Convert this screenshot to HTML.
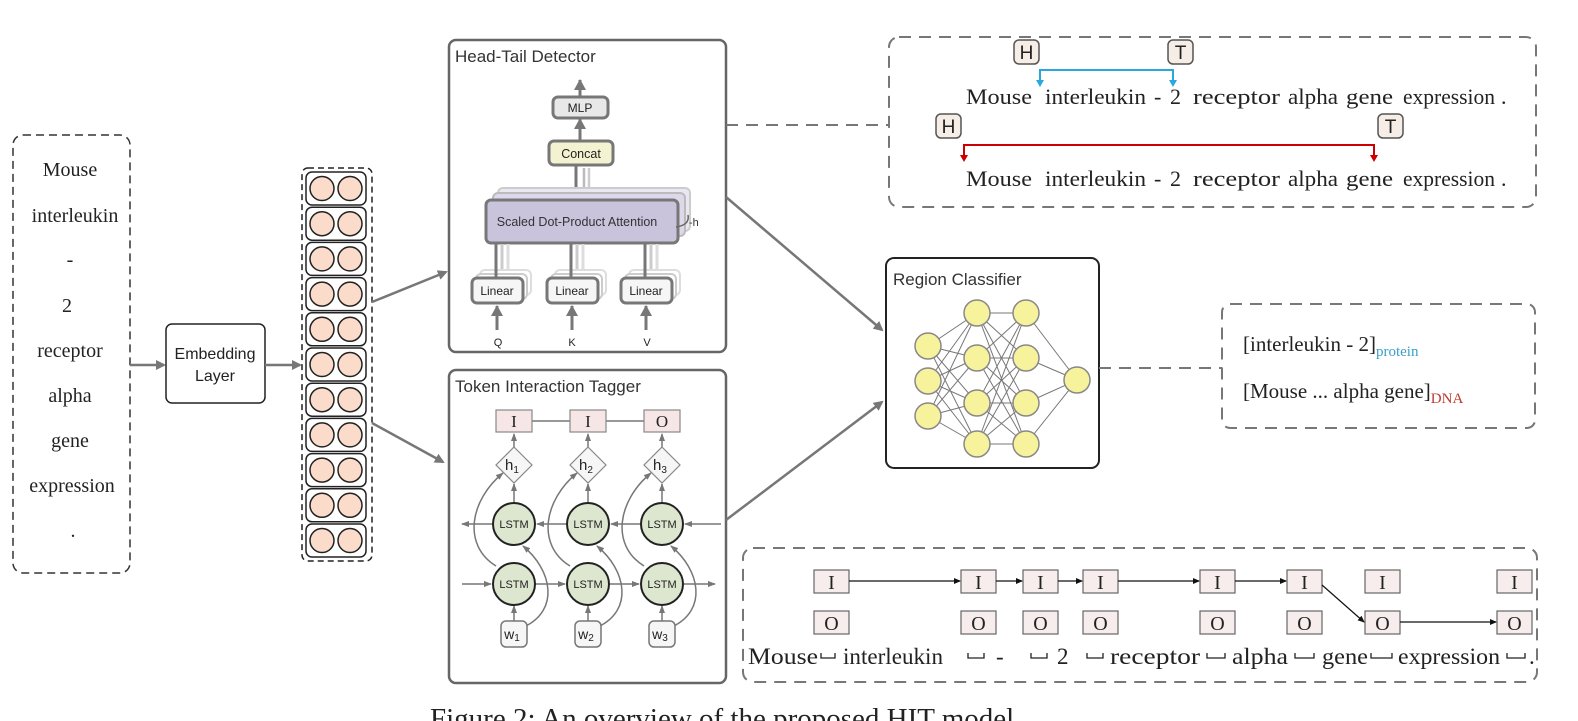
<!DOCTYPE html>
<html><head><meta charset="utf-8"><style>
body{margin:0;background:#fff}
svg{display:block}
.s{font-family:"Liberation Sans",sans-serif}
.r{font-family:"Liberation Serif",serif}
</style></head><body>
<svg width="1578" height="721" viewBox="0 0 1578 721" xmlns="http://www.w3.org/2000/svg">
<defs>
<marker id="ag" markerWidth="10" markerHeight="10" refX="8" refY="5" orient="auto" markerUnits="userSpaceOnUse"><path d="M0,0 L10,5 L0,10 z" fill="#777"/></marker>
<marker id="as" markerWidth="8" markerHeight="8" refX="7" refY="4" orient="auto" markerUnits="userSpaceOnUse"><path d="M0,1 L8,4 L0,7 z" fill="#777"/></marker>
<marker id="ak" markerWidth="7" markerHeight="7" refX="6" refY="3.5" orient="auto" markerUnits="userSpaceOnUse"><path d="M0,0.5 L7,3.5 L0,6.5 z" fill="#111"/></marker>
<marker id="at" markerWidth="12" markerHeight="12" refX="10" refY="6" orient="auto" markerUnits="userSpaceOnUse"><path d="M0,0 L11,6 L0,12 z" fill="#777"/></marker>
</defs>

<!-- Left word box -->
<rect x="13" y="135" width="117" height="438" rx="10" fill="none" stroke="#333" stroke-width="1.5" stroke-dasharray="8,5"/>
<g class="r" font-size="20" fill="#222" text-anchor="middle">
<text x="70" y="176">Mouse</text>
<text x="75" y="222">interleukin</text>
<text x="70" y="266">-</text>
<text x="67" y="312">2</text>
<text x="70" y="357">receptor</text>
<text x="70" y="402">alpha</text>
<text x="70" y="447">gene</text>
<text x="72" y="492">expression</text>
<text x="73" y="537">.</text>
</g>
<line x1="130" y1="365" x2="164" y2="365" stroke="#777" stroke-width="2.5" marker-end="url(#ag)"/>
<rect x="166" y="324" width="99" height="79" rx="6" fill="#fff" stroke="#222" stroke-width="1.5"/>
<text class="s" x="215" y="359" font-size="16" text-anchor="middle" fill="#222">Embedding</text>
<text class="s" x="215" y="381" font-size="16" text-anchor="middle" fill="#222">Layer</text>
<line x1="265" y1="365" x2="300" y2="365" stroke="#777" stroke-width="2.5" marker-end="url(#ag)"/>

<!-- embedding column -->
<rect x="302" y="168" width="70" height="393" rx="6" fill="none" stroke="#222" stroke-width="1.5" stroke-dasharray="6,4"/>
<g stroke="#222" stroke-width="1.5">
<rect x="306" y="172" width="60" height="33" rx="6" fill="#fff"/><circle cx="322" cy="188.5" r="12" fill="#fbdccb"/><circle cx="350" cy="188.5" r="12" fill="#fbdccb"/>
<rect x="306" y="207.2" width="60" height="33" rx="6" fill="#fff"/><circle cx="322" cy="223.7" r="12" fill="#fbdccb"/><circle cx="350" cy="223.7" r="12" fill="#fbdccb"/>
<rect x="306" y="242.4" width="60" height="33" rx="6" fill="#fff"/><circle cx="322" cy="258.9" r="12" fill="#fbdccb"/><circle cx="350" cy="258.9" r="12" fill="#fbdccb"/>
<rect x="306" y="277.6" width="60" height="33" rx="6" fill="#fff"/><circle cx="322" cy="294.1" r="12" fill="#fbdccb"/><circle cx="350" cy="294.1" r="12" fill="#fbdccb"/>
<rect x="306" y="312.8" width="60" height="33" rx="6" fill="#fff"/><circle cx="322" cy="329.3" r="12" fill="#fbdccb"/><circle cx="350" cy="329.3" r="12" fill="#fbdccb"/>
<rect x="306" y="348" width="60" height="33" rx="6" fill="#fff"/><circle cx="322" cy="364.5" r="12" fill="#fbdccb"/><circle cx="350" cy="364.5" r="12" fill="#fbdccb"/>
<rect x="306" y="383.2" width="60" height="33" rx="6" fill="#fff"/><circle cx="322" cy="399.7" r="12" fill="#fbdccb"/><circle cx="350" cy="399.7" r="12" fill="#fbdccb"/>
<rect x="306" y="418.4" width="60" height="33" rx="6" fill="#fff"/><circle cx="322" cy="434.9" r="12" fill="#fbdccb"/><circle cx="350" cy="434.9" r="12" fill="#fbdccb"/>
<rect x="306" y="453.6" width="60" height="33" rx="6" fill="#fff"/><circle cx="322" cy="470.1" r="12" fill="#fbdccb"/><circle cx="350" cy="470.1" r="12" fill="#fbdccb"/>
<rect x="306" y="488.8" width="60" height="33" rx="6" fill="#fff"/><circle cx="322" cy="505.3" r="12" fill="#fbdccb"/><circle cx="350" cy="505.3" r="12" fill="#fbdccb"/>
<rect x="306" y="524" width="60" height="33" rx="6" fill="#fff"/><circle cx="322" cy="540.5" r="12" fill="#fbdccb"/><circle cx="350" cy="540.5" r="12" fill="#fbdccb"/>
</g>
<line x1="372" y1="302" x2="446" y2="272" stroke="#777" stroke-width="2.5" marker-end="url(#ag)"/>
<line x1="372" y1="423" x2="443" y2="462" stroke="#777" stroke-width="2.5" marker-end="url(#ag)"/>

<!-- Head-Tail Detector -->
<rect x="449" y="40" width="277" height="312" rx="7" fill="#fff" stroke="#666" stroke-width="2.5"/>
<text class="s" x="455" y="62" font-size="17" fill="#333">Head-Tail Detector</text>
<line x1="580" y1="97" x2="580" y2="80" stroke="#777" stroke-width="3" marker-end="url(#at)"/>
<rect x="553" y="97" width="55" height="21" rx="5" fill="#e8e8e8" stroke="#777" stroke-width="3"/>
<text class="s" x="580" y="112" font-size="12" text-anchor="middle" fill="#222">MLP</text>
<line x1="580" y1="141" x2="580" y2="119" stroke="#777" stroke-width="3" marker-end="url(#at)"/>
<rect x="549" y="141" width="64" height="24" rx="5" fill="#f3f3d2" stroke="#777" stroke-width="3"/>
<text class="s" x="581" y="158" font-size="12.5" text-anchor="middle" fill="#222">Concat</text>
<line x1="584" y1="199" x2="584" y2="168" stroke="#bbb" stroke-width="2.5"/>
<line x1="589" y1="199" x2="589" y2="168" stroke="#ccc" stroke-width="2.5"/>
<line x1="576" y1="201" x2="576" y2="166" stroke="#777" stroke-width="3"/>
<rect x="498" y="188" width="192" height="43" rx="5" fill="#ebe7f2" stroke="#ccc" stroke-width="2"/>
<rect x="493" y="193" width="192" height="43" rx="5" fill="#ddd8ea" stroke="#bbb" stroke-width="2"/>
<rect x="486" y="200" width="192" height="43" rx="5" fill="#c9c3dc" stroke="#777" stroke-width="3"/>
<text class="s" x="577" y="226" font-size="12.5" text-anchor="middle" fill="#333">Scaled Dot-Product Attention</text>
<path d="M676,227 q14,-2 12,-12" fill="none" stroke="#666" stroke-width="1.5"/>
<text class="s" x="689" y="226" font-size="11" fill="#333">-h</text>
<g stroke-width="3">
<g>
<line x1="502" y1="277" x2="502" y2="244" stroke="#ccc"/><line x1="508" y1="277" x2="508" y2="244" stroke="#ddd"/>
<rect x="480" y="270" width="51" height="25" rx="5" fill="#fff" stroke="#ddd" stroke-width="2"/>
<rect x="476" y="274" width="51" height="25" rx="5" fill="#fff" stroke="#ccc" stroke-width="2"/>
<line x1="496" y1="277" x2="496" y2="244" stroke="#777"/>
<rect x="472" y="278" width="51" height="25" rx="5" fill="#f6f6f6" stroke="#777"/>
<line x1="497" y1="330" x2="497" y2="306" stroke="#777" marker-end="url(#at)"/>
</g>
<g transform="translate(75,0)">
<line x1="502" y1="277" x2="502" y2="244" stroke="#ccc"/><line x1="508" y1="277" x2="508" y2="244" stroke="#ddd"/>
<rect x="480" y="270" width="51" height="25" rx="5" fill="#fff" stroke="#ddd" stroke-width="2"/>
<rect x="476" y="274" width="51" height="25" rx="5" fill="#fff" stroke="#ccc" stroke-width="2"/>
<line x1="496" y1="277" x2="496" y2="244" stroke="#777"/>
<rect x="472" y="278" width="51" height="25" rx="5" fill="#f6f6f6" stroke="#777"/>
<line x1="497" y1="330" x2="497" y2="306" stroke="#777" marker-end="url(#at)"/>
</g>
<g transform="translate(149,0)">
<line x1="502" y1="277" x2="502" y2="244" stroke="#ccc"/><line x1="508" y1="277" x2="508" y2="244" stroke="#ddd"/>
<rect x="480" y="270" width="51" height="25" rx="5" fill="#fff" stroke="#ddd" stroke-width="2"/>
<rect x="476" y="274" width="51" height="25" rx="5" fill="#fff" stroke="#ccc" stroke-width="2"/>
<line x1="496" y1="277" x2="496" y2="244" stroke="#777"/>
<rect x="472" y="278" width="51" height="25" rx="5" fill="#f6f6f6" stroke="#777"/>
<line x1="497" y1="330" x2="497" y2="306" stroke="#777" marker-end="url(#at)"/>
</g>
</g>
<g class="s" font-size="12" text-anchor="middle" fill="#222">
<text x="497" y="295">Linear</text><text x="572" y="295">Linear</text><text x="646" y="295">Linear</text>
<text x="498" y="346" font-size="11">Q</text><text x="572" y="346" font-size="11">K</text><text x="647" y="346" font-size="11">V</text>
</g>

<!-- Token Interaction Tagger -->
<rect x="449" y="370" width="277" height="313" rx="7" fill="#fff" stroke="#666" stroke-width="2.5"/>
<text class="s" x="455" y="392" font-size="17" fill="#333">Token Interaction Tagger</text>
<line x1="532" y1="421" x2="570" y2="421" stroke="#777" stroke-width="1.5"/>
<line x1="606" y1="421" x2="644" y2="421" stroke="#777" stroke-width="1.5"/>
<g stroke="#888" stroke-width="1.2" fill="#f7e6e6">
<rect x="496" y="410" width="36" height="22"/><rect x="570" y="410" width="36" height="22"/><rect x="644" y="410" width="36" height="22"/>
</g>
<g class="r" font-size="17" text-anchor="middle" fill="#222">
<text x="514" y="427">I</text><text x="588" y="427">I</text><text x="662" y="427">O</text>
</g>
<g stroke="#777" stroke-width="1.5" fill="none">
<line x1="514" y1="447" x2="514" y2="434" marker-end="url(#as)"/><line x1="588" y1="447" x2="588" y2="434" marker-end="url(#as)"/><line x1="662" y1="447" x2="662" y2="434" marker-end="url(#as)"/>
<line x1="514" y1="503" x2="514" y2="484" marker-end="url(#as)"/><line x1="588" y1="503" x2="588" y2="484" marker-end="url(#as)"/><line x1="662" y1="503" x2="662" y2="484" marker-end="url(#as)"/>
<line x1="514" y1="621" x2="514" y2="606" marker-end="url(#as)"/><line x1="588" y1="621" x2="588" y2="606" marker-end="url(#as)"/><line x1="662" y1="621" x2="662" y2="606" marker-end="url(#as)"/>
<line x1="721" y1="524" x2="685" y2="524" marker-end="url(#as)"/><line x1="641" y1="524" x2="611" y2="524" marker-end="url(#as)"/><line x1="567" y1="524" x2="537" y2="524" marker-end="url(#as)"/><line x1="493" y1="524" x2="462" y2="524" marker-end="url(#as)"/>
<line x1="462" y1="584" x2="491" y2="584" marker-end="url(#as)"/><line x1="535" y1="584" x2="565" y2="584" marker-end="url(#as)"/><line x1="609" y1="584" x2="639" y2="584" marker-end="url(#as)"/><line x1="683" y1="584" x2="715" y2="584" marker-end="url(#as)"/>
<path d="M496,566 C462,545 470,500 503,473" marker-end="url(#as)"/>
<path d="M570,566 C536,545 544,500 577,473" marker-end="url(#as)"/>
<path d="M644,566 C610,545 618,500 651,473" marker-end="url(#as)"/>
<path d="M524,627 C560,610 552,570 523,546" marker-end="url(#as)"/>
<path d="M598,627 C634,610 626,570 597,546" marker-end="url(#as)"/>
<path d="M672,627 C708,610 700,570 671,546" marker-end="url(#as)"/>
</g>
<g stroke="#888" stroke-width="1.2" fill="#f6f6f6">
<path d="M514,447 L532,465 L514,483 L496,465 z"/><path d="M588,447 L606,465 L588,483 L570,465 z"/><path d="M662,447 L680,465 L662,483 L644,465 z"/>
</g>
<g class="s" font-size="15" text-anchor="middle" fill="#222">
<text x="512" y="470">h<tspan font-size="10" dy="3">1</tspan></text>
<text x="586" y="470">h<tspan font-size="10" dy="3">2</tspan></text>
<text x="660" y="470">h<tspan font-size="10" dy="3">3</tspan></text>
</g>
<g stroke="#222" stroke-width="2" fill="#dde6cf">
<circle cx="514" cy="524" r="21"/><circle cx="588" cy="524" r="21"/><circle cx="662" cy="524" r="21"/>
<circle cx="514" cy="584" r="21"/><circle cx="588" cy="584" r="21"/><circle cx="662" cy="584" r="21"/>
</g>
<g class="s" font-size="11" text-anchor="middle" fill="#222">
<text x="514" y="528">LSTM</text><text x="588" y="528">LSTM</text><text x="662" y="528">LSTM</text>
<text x="514" y="588">LSTM</text><text x="588" y="588">LSTM</text><text x="662" y="588">LSTM</text>
</g>
<g stroke="#777" stroke-width="1.5" fill="#f6f6f6">
<rect x="501" y="621" width="26" height="26" rx="5"/><rect x="575" y="621" width="26" height="26" rx="5"/><rect x="649" y="621" width="26" height="26" rx="5"/>
</g>
<g class="s" font-size="14" text-anchor="middle" fill="#222">
<text x="512" y="639">w<tspan font-size="10" dy="2">1</tspan></text>
<text x="586" y="639">w<tspan font-size="10" dy="2">2</tspan></text>
<text x="660" y="639">w<tspan font-size="10" dy="2">3</tspan></text>
</g>

<!-- connectors -->
<line x1="726" y1="197" x2="882" y2="330" stroke="#777" stroke-width="2.5" marker-end="url(#ag)"/>
<line x1="726" y1="520" x2="882" y2="402" stroke="#777" stroke-width="2.5" marker-end="url(#ag)"/>
<line x1="726" y1="125" x2="890" y2="125" stroke="#777" stroke-width="2" stroke-dasharray="12,8"/>

<!-- Region Classifier -->
<rect x="886" y="258" width="213" height="210" rx="8" fill="#fff" stroke="#222" stroke-width="2"/>
<text class="s" x="893" y="285" font-size="17" fill="#333">Region Classifier</text>
<g stroke="#777" stroke-width="1">
<path d="M928,346 L977,313 M928,346 L977,358 M928,346 L977,403 M928,346 L977,444
M928,381 L977,313 M928,381 L977,358 M928,381 L977,403 M928,381 L977,444
M928,416 L977,313 M928,416 L977,358 M928,416 L977,403 M928,416 L977,444
M977,313 L1026,313 M977,313 L1026,358 M977,313 L1026,403 M977,313 L1026,444
M977,358 L1026,313 M977,358 L1026,358 M977,358 L1026,403 M977,358 L1026,444
M977,403 L1026,313 M977,403 L1026,358 M977,403 L1026,403 M977,403 L1026,444
M977,444 L1026,313 M977,444 L1026,358 M977,444 L1026,403 M977,444 L1026,444
M1026,313 L1077,380 M1026,358 L1077,380 M1026,403 L1077,380 M1026,444 L1077,380"/>
</g>
<g fill="#f7f29c" stroke="#888" stroke-width="1.5">
<circle cx="928" cy="346" r="13"/><circle cx="928" cy="381" r="13"/><circle cx="928" cy="416" r="13"/>
<circle cx="977" cy="313" r="13"/><circle cx="977" cy="358" r="13"/><circle cx="977" cy="403" r="13"/><circle cx="977" cy="444" r="13"/>
<circle cx="1026" cy="313" r="13"/><circle cx="1026" cy="358" r="13"/><circle cx="1026" cy="403" r="13"/><circle cx="1026" cy="444" r="13"/>
<circle cx="1077" cy="380" r="13"/>
</g>
<line x1="1099" y1="368" x2="1222" y2="368" stroke="#777" stroke-width="2" stroke-dasharray="12,8"/>

<!-- Output box -->
<rect x="1222" y="304" width="313" height="124" rx="8" fill="none" stroke="#777" stroke-width="2" stroke-dasharray="12,8"/>
<text class="r" x="1243" y="351" font-size="21" fill="#222">[interleukin - 2]<tspan font-size="15" dy="5" fill="#3aa0c8">protein</tspan></text>
<text class="r" x="1243" y="398" font-size="21" fill="#222">[Mouse ... alpha gene]<tspan font-size="15" dy="5" fill="#c0392b">DNA</tspan></text>

<!-- Top-right box -->
<rect x="889" y="37" width="647" height="170" rx="10" fill="none" stroke="#777" stroke-width="2" stroke-dasharray="12,8"/>
<g stroke="#555" stroke-width="1.5" fill="#f5ede6">
<rect x="1014" y="40" width="25" height="24" rx="5"/><rect x="1168" y="40" width="25" height="24" rx="5"/>
<rect x="936" y="114" width="25" height="24" rx="5"/><rect x="1378" y="114" width="25" height="24" rx="5"/>
</g>
<g class="s" font-size="19" text-anchor="middle" fill="#222">
<text x="1026.5" y="59">H</text><text x="1180.5" y="59">T</text>
<text x="948.5" y="133">H</text><text x="1390.5" y="133">T</text>
</g>
<path d="M1040,81 L1040,70 L1173,70 L1173,81" fill="none" stroke="#29a8e0" stroke-width="2"/>
<path d="M1036,80 L1044,80 L1040,87 z M1169,80 L1177,80 L1173,87 z" fill="#29a8e0"/>
<path d="M964,156 L964,145 L1374,145 L1374,156" fill="none" stroke="#c00" stroke-width="2"/>
<path d="M960,155 L968,155 L964,162 z M1370,155 L1378,155 L1374,162 z" fill="#c00"/>
<g class="r" font-size="22" fill="#222" lengthAdjust="spacingAndGlyphs">
<text x="966" y="104" textLength="66" lengthAdjust="spacingAndGlyphs">Mouse</text><text x="1045" y="104" textLength="101" lengthAdjust="spacingAndGlyphs">interleukin</text><text x="1154" y="104">-</text><text x="1170" y="104">2</text><text x="1193" y="104" textLength="87" lengthAdjust="spacingAndGlyphs">receptor</text><text x="1288" y="104" textLength="50" lengthAdjust="spacingAndGlyphs">alpha</text><text x="1346" y="104" textLength="47" lengthAdjust="spacingAndGlyphs">gene</text><text x="1403" y="104" textLength="92" lengthAdjust="spacingAndGlyphs">expression</text><text x="1501" y="104">.</text>
<text x="966" y="186" textLength="66" lengthAdjust="spacingAndGlyphs">Mouse</text><text x="1045" y="186" textLength="101" lengthAdjust="spacingAndGlyphs">interleukin</text><text x="1154" y="186">-</text><text x="1170" y="186">2</text><text x="1193" y="186" textLength="87" lengthAdjust="spacingAndGlyphs">receptor</text><text x="1288" y="186" textLength="50" lengthAdjust="spacingAndGlyphs">alpha</text><text x="1346" y="186" textLength="47" lengthAdjust="spacingAndGlyphs">gene</text><text x="1403" y="186" textLength="92" lengthAdjust="spacingAndGlyphs">expression</text><text x="1501" y="186">.</text>
</g>

<!-- Bottom box -->
<rect x="743" y="548" width="794" height="134" rx="10" fill="none" stroke="#777" stroke-width="2" stroke-dasharray="12,8"/>
<g stroke="#666" stroke-width="1.2" fill="#f7eded">
<rect x="814" y="570" width="35" height="23"/><rect x="961" y="570" width="35" height="23"/><rect x="1023" y="570" width="35" height="23"/><rect x="1083" y="570" width="35" height="23"/><rect x="1200" y="570" width="35" height="23"/><rect x="1287" y="570" width="35" height="23"/><rect x="1365" y="570" width="35" height="23"/><rect x="1497" y="570" width="35" height="23"/>
<rect x="814" y="611" width="35" height="23"/><rect x="961" y="611" width="35" height="23"/><rect x="1023" y="611" width="35" height="23"/><rect x="1083" y="611" width="35" height="23"/><rect x="1200" y="611" width="35" height="23"/><rect x="1287" y="611" width="35" height="23"/><rect x="1365" y="611" width="35" height="23"/><rect x="1497" y="611" width="35" height="23"/>
</g>
<g class="r" font-size="20" text-anchor="middle" fill="#222">
<text x="831.5" y="589">I</text><text x="978.5" y="589">I</text><text x="1040.5" y="589">I</text><text x="1100.5" y="589">I</text><text x="1217.5" y="589">I</text><text x="1304.5" y="589">I</text><text x="1382.5" y="589">I</text><text x="1514.5" y="589">I</text>
<text x="831.5" y="630">O</text><text x="978.5" y="630">O</text><text x="1040.5" y="630">O</text><text x="1100.5" y="630">O</text><text x="1217.5" y="630">O</text><text x="1304.5" y="630">O</text><text x="1382.5" y="630">O</text><text x="1514.5" y="630">O</text>
</g>
<g stroke="#111" stroke-width="1.2">
<line x1="849" y1="581" x2="960" y2="581" marker-end="url(#ak)"/>
<line x1="996" y1="581" x2="1022" y2="581" marker-end="url(#ak)"/>
<line x1="1058" y1="581" x2="1082" y2="581" marker-end="url(#ak)"/>
<line x1="1118" y1="581" x2="1199" y2="581" marker-end="url(#ak)"/>
<line x1="1235" y1="581" x2="1286" y2="581" marker-end="url(#ak)"/>
<line x1="1322" y1="585" x2="1364" y2="622" marker-end="url(#ak)"/>
<line x1="1400" y1="622" x2="1496" y2="622" marker-end="url(#ak)"/>
</g>
<g class="r" font-size="23" fill="#222">
<text x="748" y="664" textLength="70" lengthAdjust="spacingAndGlyphs">Mouse</text><text x="843" y="664" textLength="100" lengthAdjust="spacingAndGlyphs">interleukin</text><text x="996" y="664">-</text><text x="1057" y="664">2</text><text x="1110" y="664" textLength="90" lengthAdjust="spacingAndGlyphs">receptor</text><text x="1232" y="664" textLength="56" lengthAdjust="spacingAndGlyphs">alpha</text><text x="1322" y="664" textLength="46" lengthAdjust="spacingAndGlyphs">gene</text><text x="1398" y="664" textLength="102" lengthAdjust="spacingAndGlyphs">expression</text><text x="1529" y="664">.</text>
</g>
<path d="M821,653 v5 h14 v-5 M968,653 v5 h16 v-5 M1031,653 v5 h16 v-5 M1087,653 v5 h16 v-5 M1207,653 v5 h18 v-5 M1295,653 v5 h19 v-5 M1371,653 v5 h21 v-5 M1507,653 v5 h18 v-5" fill="none" stroke="#222" stroke-width="1.3"/>

<!-- caption -->
<text class="r" x="430" y="728" font-size="29" fill="#222">Figure 2: An overview of the proposed HIT model.</text>
</svg>
</body></html>
